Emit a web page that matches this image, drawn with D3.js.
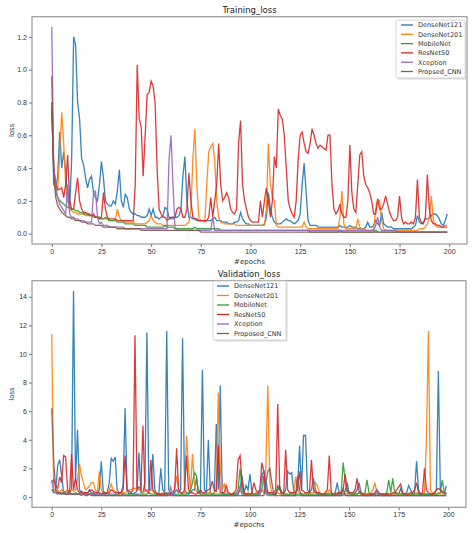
<!DOCTYPE html>
<html lang="en">
<head>
<meta charset="UTF-8">
<title>Training and validation loss</title>
<script src="https://d3js.org/d3.v7.min.js"></script>
<style>
  body { margin: 0; background: #fff; }
  svg { font-family: "DejaVu Sans", sans-serif; }
  .tick text { fill: #333; }
</style>
</head>
<body>
<svg width="474" height="533"></svg>
<script>
// model names (legend labels differ a little between the two panels)
const modelsTrain = ['DenseNet121', 'DenseNet201', 'MobileNet', 'ResNet50', 'Xception', 'Propsed_CNN'];
const modelsVal = ['DenseNet121', 'DenseNet201', 'MobileNet', 'ResNet50', 'Xception', 'Proposed_CNN'];
const colors = ['#1f77b4', '#ff7f0e', '#2ca02c', '#d62728', '#9467bd', '#8c564b'];

const xTicks = [0, 25, 50, 75, 100, 125, 150, 175, 200];
const yTicksTrain = [0, 0.2, 0.4, 0.6, 0.8, 1.0, 1.2];
const yTicksVal = [0, 2, 4, 6, 8, 10, 12, 14];

// training loss, epochs 0..199
const dn121Train = [
  .80,.30,.28,.35,.62,.40,.50,.38,.22,.16,.45,1.20,1.15,.80,.70,.46,.42,.34,.28,.33,
  .35,.25,.22,.20,.30,.44,.34,.20,.18,.17,.17,.20,.18,.26,.39,.20,.16,.24,.22,.15,
  .13,.12,.12,.11,.11,.10,.10,.10,.11,.15,.11,.15,.10,.10,.09,.10,.11,.16,.15,.10,
  .09,.09,.10,.10,.11,.15,.35,.47,.20,.10,.10,.09,.09,.08,.08,.08,.08,.08,.08,.08,
  .08,.09,.10,.08,.08,.08,.07,.07,.07,.06,.06,.06,.07,.07,.08,.13,.09,.07,.06,.06,
  .05,.05,.05,.05,.05,.05,.05,.06,.10,.25,.15,.10,.07,.06,.06,.06,.07,.08,.09,.08,
  .08,.07,.06,.07,.08,.12,.30,.43,.25,.08,.05,.05,.05,.05,.04,.04,.04,.04,.04,.04,
  .04,.04,.04,.04,.04,.05,.04,.04,.04,.04,.05,.04,.04,.04,.03,.03,.03,.03,.04,.07,
  .04,.04,.05,.08,.06,.05,.13,.06,.05,.04,.04,.04,.03,.03,.03,.03,.03,.03,.03,.03,
  .03,.03,.04,.05,.11,.07,.06,.07,.09,.09,.10,.11,.12,.12,.11,.09,.06,.05,.08,.12
];
const dn201Train = [
  .80,.40,.30,.26,.50,.74,.55,.30,.20,.15,.14,.13,.13,.12,.12,.12,.12,.11,.11,.11,
  .11,.10,.10,.10,.10,.09,.09,.09,.09,.08,.08,.08,.09,.15,.10,.08,.08,.07,.07,.07,
  .07,.07,.06,.06,.06,.06,.06,.06,.07,.08,.11,.08,.07,.06,.06,.06,.05,.05,.05,.05,
  .05,.05,.05,.05,.05,.05,.05,.05,.06,.07,.15,.45,.64,.30,.10,.08,.08,.07,.30,.50,
  .53,.55,.45,.20,.10,.07,.07,.06,.06,.06,.06,.06,.06,.05,.05,.05,.05,.05,.05,.05,
  .05,.05,.05,.05,.05,.05,.05,.05,.15,.55,.30,.22,.20,.05,.04,.04,.04,.04,.04,.04,
  .04,.04,.04,.04,.04,.04,.04,.07,.04,.03,.03,.03,.03,.03,.03,.03,.03,.03,.03,.03,
  .03,.03,.03,.03,.03,.10,.26,.06,.03,.03,.03,.03,.03,.03,.09,.04,.03,.03,.02,.02,
  .02,.02,.03,.15,.21,.20,.08,.03,.02,.02,.02,.02,.02,.02,.02,.02,.02,.02,.02,.02,
  .02,.02,.02,.02,.02,.03,.03,.03,.04,.06,.10,.23,.08,.05,.04,.04,.04,.04,.05,.05
];
const mobTrain = [
  .80,.35,.26,.22,.20,.19,.18,.17,.16,.16,.15,.15,.14,.14,.13,.13,.12,.12,.12,.11,
  .11,.11,.10,.10,.10,.09,.09,.10,.09,.08,.08,.08,.08,.07,.07,.07,.07,.06,.06,.06,
  .06,.06,.05,.05,.05,.05,.05,.05,.04,.04,.04,.04,.04,.04,.04,.04,.04,.05,.04,.04,
  .04,.04,.03,.03,.03,.03,.03,.03,.03,.03,.03,.03,.04,.03,.03,.03,.03,.03,.03,.03,
  .03,.03,.03,.03,.03,.02,.02,.02,.02,.02,.02,.02,.02,.02,.02,.02,.02,.02,.02,.02,
  .02,.02,.02,.02,.02,.02,.02,.02,.02,.02,.02,.02,.02,.02,.02,.02,.02,.02,.02,.02,
  .02,.02,.02,.02,.02,.02,.02,.02,.02,.02,.01,.01,.01,.01,.01,.01,.01,.01,.01,.01,
  .01,.01,.01,.01,.01,.02,.01,.01,.01,.01,.01,.01,.01,.01,.01,.01,.01,.01,.01,.01,
  .01,.01,.01,.02,.01,.01,.01,.01,.01,.01,.01,.01,.01,.01,.01,.01,.01,.01,.01,.01,
  .01,.01,.01,.01,.01,.01,.01,.01,.01,.01,.01,.01,.01,.01,.01,.01,.01,.01,.01,.01
];
const resTrain = [
  .75,.40,.30,.27,.27,.28,.22,.30,.48,.20,.15,.15,.25,.34,.20,.15,.13,.13,.12,.12,
  .11,.12,.10,.10,.09,.10,.25,.15,.10,.09,.09,.09,.09,.08,.08,.08,.08,.08,.08,.08,
  .08,.08,.30,1.03,.70,.65,.35,.60,.85,.86,.93,.90,.80,.40,.15,.12,.10,.10,.08,.09,
  .10,.10,.10,.15,.16,.15,.10,.10,.15,.37,.20,.10,.09,.09,.08,.08,.08,.08,.08,.10,
  .22,.10,.20,.30,.55,.30,.20,.22,.25,.22,.15,.13,.12,.15,.55,.69,.30,.20,.15,.10,
  .08,.07,.07,.07,.07,.20,.10,.20,.28,.20,.10,.20,.47,.40,.76,.72,.70,.60,.40,.20,
  .15,.12,.10,.20,.45,.60,.62,.55,.50,.49,.55,.64,.60,.55,.52,.54,.53,.52,.51,.60,
  .60,.30,.15,.12,.14,.18,.12,.10,.10,.20,.54,.25,.15,.13,.30,.48,.50,.35,.30,.28,
  .25,.20,.12,.12,.21,.15,.15,.18,.23,.18,.13,.10,.08,.08,.10,.23,.10,.06,.07,.06,
  .06,.07,.06,.10,.33,.10,.07,.06,.10,.36,.15,.08,.06,.06,.05,.05,.04,.04,.04,.04
];
const xcpTrain = [
  1.26,.40,.28,.22,.18,.16,.14,.12,.30,.12,.10,.10,.09,.09,.08,.08,.08,.07,.07,.07,
  .07,.25,.26,.10,.06,.07,.05,.05,.05,.04,.04,.04,.04,.04,.04,.04,.04,.03,.03,.03,
  .03,.03,.03,.03,.03,.03,.03,.03,.03,.03,.03,.03,.03,.03,.03,.03,.03,.03,.03,.45,
  .60,.30,.04,.03,.02,.02,.02,.02,.02,.02,.02,.02,.02,.02,.02,.02,.02,.02,.02,.02,
  .02,.10,.02,.02,.02,.02,.02,.02,.02,.02,.02,.02,.02,.02,.02,.02,.02,.02,.02,.02,
  .02,.02,.02,.02,.02,.02,.02,.02,.02,.02,.02,.02,.02,.02,.02,.02,.02,.02,.02,.02,
  .02,.02,.02,.02,.02,.02,.02,.02,.02,.02,.02,.02,.02,.02,.02,.02,.02,.02,.02,.02,
  .02,.02,.02,.02,.02,.02,.02,.02,.02,.02,.02,.02,.02,.02,.02,.02,.02,.02,.02,.02,
  .02,.02,.02,.05,.10,.04,.02,.02,.02,.02,.02,.02,.02,.02,.01,.01,.01,.01,.01,.01,
  .01,.01,.01,.01,.01,.01,.01,.01,.01,.01,.01,.01,.01,.01,.01,.01,.01,.01,.01,.01
];
const cnnTrain = [
  .96,.35,.22,.17,.15,.13,.12,.11,.10,.10,.09,.09,.08,.08,.08,.07,.07,.07,.06,.06,
  .06,.06,.05,.05,.05,.05,.04,.04,.04,.04,.04,.04,.04,.03,.03,.03,.03,.03,.03,.03,
  .03,.03,.03,.03,.03,.02,.02,.02,.02,.02,.02,.02,.02,.02,.02,.02,.02,.02,.02,.02,
  .02,.02,.02,.02,.02,.02,.02,.02,.02,.02,.02,.02,.02,.02,.02,.01,.01,.01,.01,.01,
  .01,.01,.01,.01,.01,.01,.01,.01,.01,.01,.01,.01,.01,.01,.01,.01,.01,.01,.01,.01,
  .01,.01,.01,.01,.01,.01,.01,.01,.01,.01,.01,.01,.01,.01,.01,.01,.01,.01,.01,.01,
  .01,.01,.01,.01,.01,.01,.01,.01,.01,.01,.01,.01,.01,.01,.01,.01,.01,.01,.01,.01,
  .01,.01,.01,.01,.01,.01,.01,.01,.01,.01,.01,.01,.01,.01,.01,.01,.01,.01,.01,.01,
  .01,.01,.01,.01,.01,.01,.01,.01,.01,.01,.01,.01,.01,.01,.01,.01,.01,.01,.01,.01,
  .01,.01,.01,.01,.01,.01,.01,.01,.01,.01,.01,.01,.01,.01,.01,.01,.01,.01,.01,.01
];

// validation loss, epochs 0..199
const dn121Val = [
  .5,.4,.5,2.2,2.6,1.5,.3,.4,.3,.3,.5,14.4,1.0,4.7,.5,.3,.2,.3,.2,.5,
  .3,.2,.1,.2,.5,2.5,.4,.3,.3,1.0,2.7,2.5,2.8,.5,.3,.3,.8,6.2,.5,.2,
  .3,.2,.3,.4,3.1,.3,.3,1.0,11.5,.5,.5,3.0,.5,.2,.2,2.0,.5,.3,11.6,.5,
  .3,.2,.3,.5,.3,.5,11.1,.5,.3,.2,.3,.5,.5,1.3,.3,.3,8.9,.5,.3,4.0,
  .3,.2,.3,5.1,.5,7.8,.2,.2,.2,.1,.2,.2,.2,.1,.2,.5,1.5,.3,.8,.5,
  1.6,.3,.2,.2,.2,.5,1.5,1.8,1.2,.3,.2,.2,.2,.3,.5,.7,.3,.2,.5,1.8,
  1.6,1.7,.5,.3,.6,3.6,.5,4.3,4.3,.5,.3,.5,1.3,.5,.2,.2,.2,.1,.2,.2,
  .2,.2,.2,.3,1.0,.2,.2,.2,.4,1.0,.3,.2,.2,.3,.5,1.0,.3,.2,.1,.1,
  .1,.2,.2,.1,.1,.2,.2,.1,.1,.2,.1,.1,.2,.2,.3,.2,.6,.2,.2,.3,
  .8,.5,.2,.3,2.5,.5,.2,.1,.2,.2,.1,.2,.2,.2,.5,8.8,.5,.3,.2,.8
];
const dn201Val = [
  11.4,.5,.4,.5,.3,.5,.4,.3,.5,.3,.5,.4,.5,1.2,2.3,1.5,1.0,.5,.6,.8,
  1.0,1.0,.5,.3,1.8,.5,.3,.2,.3,.5,.9,.5,.4,.3,.2,.2,.3,.3,.4,.5,
  .5,.6,.6,.6,.5,.4,.3,.4,.5,.5,.5,.4,.3,.3,.2,.2,.3,.2,.2,.3,
  .2,.3,.5,1.5,.5,.3,.2,.3,4.3,2.0,.5,3.0,.8,.4,.3,.2,.3,.2,.2,.3,
  .3,.2,.3,.5,7.3,2.0,.5,.9,.4,.3,.2,.2,.3,.2,.3,.4,.3,.2,.2,.3,
  .2,.2,.2,.3,.2,.3,.5,.3,2.0,7.8,1.0,.3,.2,.2,.3,.2,.2,.3,.2,.2,
  .2,.3,.2,1.4,.5,.3,.2,.2,.3,.2,.2,.3,.3,1.0,.8,.3,.2,.2,.3,.2,
  .5,.3,.2,.2,.3,.4,.3,.2,.2,.2,.3,.2,.2,.2,.2,.3,.2,.2,.2,.2,
  .2,.3,.5,1.0,.3,.2,.2,.2,.2,.3,.2,.2,.2,.2,.2,.3,.2,.2,.2,.2,
  .2,.2,.2,.2,.3,.2,.2,.2,.3,4.0,11.6,.5,.3,.2,.2,.3,.2,.2,.3,.3
];
const mobVal = [
  .5,.3,.3,.2,.3,.2,.3,.2,.2,.3,.2,.2,.3,.2,.2,.3,.2,.2,.2,.2,
  .2,.3,.2,.2,.2,.2,.2,.3,.2,.2,.2,.2,.2,.2,.2,.3,.2,.2,.2,.2,
  .2,.2,.2,.2,.2,.2,.2,.2,.2,.3,.2,.2,.2,.2,.2,.2,.2,.2,.2,.2,
  .2,.2,.2,.2,.2,.2,.2,.2,.2,.3,.5,1.0,1.7,1.5,.3,.2,.2,.2,.2,.2,
  .2,.2,.2,.2,.2,.2,.2,.2,.2,.2,.2,.2,.2,.2,.5,2.0,.5,.2,.2,.2,
  .2,.2,.2,.2,.2,.2,.5,1.5,.3,.2,.2,.2,.2,.2,.5,.7,.3,.2,.2,.2,
  .2,.2,.2,.2,.2,.2,.2,.2,.2,.2,.2,.2,.2,.2,.2,.2,.2,.2,.2,.2,
  .2,.2,.2,.2,.2,.2,.3,2.4,1.2,.3,.2,.2,.2,.2,.2,.3,.2,.2,.3,1.2,
  .3,.2,.2,.2,.2,.2,.2,.2,.2,.3,1.2,.3,1.3,.3,.2,.2,.2,.2,.2,.2,
  .2,.2,.2,.2,.2,.2,.2,.2,.2,.2,.2,.2,.2,.2,.2,.2,.3,1.2,.3,.2
];
const resVal = [
  1.0,1.2,.8,.6,1.4,1.0,2.9,2.8,.5,.3,3.0,.5,1.3,.5,.3,.4,.3,.3,.3,.4,
  .5,.4,.3,.3,.3,.2,.3,.2,.3,.3,.5,.4,.3,.3,.3,.3,.5,2.9,.5,.4,
  .3,.5,11.3,.5,.7,.5,5.0,.5,.4,.3,2.6,.5,.3,.2,.2,.2,.2,.2,.3,.2,
  .2,.3,.5,3.4,.5,.3,.3,.5,2.9,.5,.3,.3,.2,.2,.3,.5,.3,.3,.4,.5,
  .6,1.1,.5,.4,3.6,.3,.3,.3,.8,.3,.2,.2,.3,.5,2.6,2.9,1.0,.3,.2,.2,
  .2,.3,1.0,.5,.3,.5,2.4,1.8,.5,.3,.3,.3,.3,.5,6.5,.5,.3,.3,3.3,.5,
  .3,.3,.3,.3,.5,1.8,.5,.4,.3,.3,.3,2.6,.5,.3,.3,.3,.2,.2,.3,.5,
  2.9,.3,.2,.2,.2,.3,.3,.5,1.6,.5,.3,.3,.3,.5,1.3,.4,.3,.2,.2,.2,
  .2,.2,.2,.3,.5,.3,.2,.2,.2,.2,.2,.2,.3,.3,.5,.7,.9,.3,.2,.2,
  .2,.3,.3,.5,1.0,.3,.2,.3,2.0,.5,.3,.2,.2,.3,.5,.6,.5,.4,.3,.2
];
const xcpVal = [
  1.2,.3,.3,.3,.2,.3,.2,.2,.2,.3,.2,.2,.2,.2,.2,.2,.2,.2,.2,.2,
  .2,.1,.2,.2,.1,.2,.2,.1,.1,.2,.1,.1,.2,.1,.1,.1,.2,.1,.1,.1,
  .1,.1,.1,.2,.1,.1,.1,.1,.1,.1,.1,.1,.1,.1,.1,.1,.1,.1,.1,.2,
  .7,.2,.1,.1,.1,.1,.1,.1,.1,.1,.1,.1,.1,.1,.1,.1,.1,.1,.1,.1,
  .1,.1,.1,.1,.1,.1,.1,.1,.1,.1,.1,.1,.1,.1,.2,.8,.2,.1,.1,.1,
  .1,.1,.1,.1,.1,.2,1.5,1.0,.2,.1,.1,.1,.1,.1,.1,.1,.1,.1,.1,.1,
  .1,.1,.1,.1,.1,.1,.1,.1,.1,.1,.1,.1,.1,.1,.1,.1,.1,.1,.1,.1,
  .1,.1,.1,.1,.1,.1,.1,.1,.2,.1,.1,.1,.1,.1,.1,.1,.1,.1,.1,.1,
  .1,.1,.1,.1,.5,.1,.1,.1,.1,.1,.1,.1,.1,.1,.1,.1,.1,.1,.1,.1,
  .1,.1,.1,.1,.1,.1,.1,.1,.1,.1,.1,.1,.1,.1,.1,.1,.1,.1,.1,.1
];
const cnnVal = [
  6.2,2.5,.5,.3,.3,.2,.3,.2,.2,.2,.2,.2,.2,.2,.2,.1,.2,.1,.1,.2,
  .1,.1,.1,.1,.1,.1,.1,.1,.1,.1,.1,.1,.1,.1,.1,.1,.1,.1,.1,.1,
  .1,.1,.1,.1,.1,.1,.1,.1,.1,.1,.1,.1,.1,.1,.1,.1,.1,.1,.1,.1,
  .1,.1,.1,.1,.1,.1,.1,.1,.1,.1,.1,.1,.1,.1,.1,.1,.1,.1,.1,.1,
  .1,.1,.1,.1,.1,.1,.1,.1,.1,.1,.1,.1,.1,.1,.1,.1,.1,.1,.1,.1,
  .1,.1,.1,.1,.1,.1,.1,.1,1.0,1.8,2.0,1.0,.2,.1,.8,.6,.1,.1,.1,.1,
  .1,.1,.1,.1,1.5,.5,.1,.1,.1,.1,.1,.1,.1,.1,.1,.1,.1,.1,.1,.1,
  .1,.1,.1,.1,.1,.1,.1,.6,.1,.1,.1,.1,.1,.1,.1,.1,.1,.1,.1,.1,
  .1,.1,.1,.1,.1,.1,.1,.1,.1,.1,.1,.1,.1,.1,.1,.1,.1,.1,.1,.1,
  .1,.1,.1,.1,.1,.1,.1,.1,.1,.1,.1,.1,.1,.1,.1,.1,.1,.1,.1,.1
];

const svg = d3.select('svg');

function drawPanel(opts) {
  const { top, bottom, left, right, series, labels, yDomain, yTicks, yFmt, title, legend } = opts;
  const x = d3.scaleLinear().domain([-9.95, 208.95]).range([left, right]);
  const y = d3.scaleLinear().domain(yDomain).range([bottom, top]);
  const g = svg.append('g');

  // lines first, frame on top
  const line = d3.line().x((d, i) => x(i)).y(d => y(d));
  series.forEach((s, k) => {
    g.append('path')
      .attr('d', line(s))
      .attr('fill', 'none')
      .attr('stroke', colors[k])
      .attr('stroke-width', 1.3)
      .attr('stroke-opacity', 0.9);
  });

  g.append('rect')
    .attr('x', left).attr('y', top)
    .attr('width', right - left).attr('height', bottom - top)
    .attr('fill', 'none').attr('stroke', '#999').attr('stroke-width', 1.2);

  const xAxis = d3.axisBottom(x).tickValues(xTicks).tickSize(3).tickPadding(2).tickFormat(d3.format('d'));
  const yAxis = d3.axisLeft(y).tickValues(yTicks).tickSize(3).tickPadding(2).tickFormat(yFmt);
  const gx = g.append('g').attr('transform', `translate(0,${bottom})`).call(xAxis);
  const gy = g.append('g').attr('transform', `translate(${left},0)`).call(yAxis);
  [gx, gy].forEach(a => {
    a.select('.domain').remove();
    a.selectAll('line').attr('stroke', '#777');
    a.selectAll('text').attr('font-size', 7).attr('fill', '#333');
  });

  g.append('text')
    .attr('x', (left + right) / 2).attr('y', top - 4)
    .attr('text-anchor', 'middle').attr('font-size', 8.5).attr('fill', '#222')
    .text(title);
  g.append('text')
    .attr('x', (left + right) / 2).attr('y', bottom + 20)
    .attr('text-anchor', 'middle').attr('font-size', 7).attr('fill', '#333')
    .text('#epochs');
  g.append('text')
    .attr('transform', `translate(14,${(top + bottom) / 2}) rotate(-90)`)
    .attr('text-anchor', 'middle').attr('font-size', 7).attr('fill', '#333')
    .text('loss');

  // legend
  const lg = g.append('g').attr('transform', `translate(${legend.x},${legend.y})`);
  lg.append('rect')
    .attr('x', 1.5).attr('y', 1.5).attr('width', legend.w).attr('height', legend.h)
    .attr('fill', '#bbb').attr('opacity', 0.5);
  lg.append('rect')
    .attr('width', legend.w).attr('height', legend.h).attr('rx', 1.5)
    .attr('fill', '#fff').attr('stroke', '#ccc').attr('stroke-width', 0.8);
  labels.forEach((name, k) => {
    const yy = 5 + k * legend.step;
    lg.append('line')
      .attr('x1', legend.lx).attr('x2', legend.lx + 12)
      .attr('y1', yy).attr('y2', yy)
      .attr('stroke', colors[k]).attr('stroke-width', 1.3);
    lg.append('text')
      .attr('x', legend.lx + 17).attr('y', yy + 2.3)
      .attr('font-size', 6.5).attr('fill', '#333')
      .text(name);
  });
}

drawPanel({
  top: 16.7, bottom: 244, left: 32, right: 467,
  series: [dn121Train, dn201Train, mobTrain, resTrain, xcpTrain, cnnTrain],
  labels: modelsTrain,
  yDomain: [-0.063, 1.323], yTicks: yTicksTrain, yFmt: d3.format('.1f'),
  title: 'Training_loss',
  legend: { x: 396, y: 20, w: 69, h: 58, step: 9.3, lx: 5 }
});

drawPanel({
  top: 280.7, bottom: 507.3, left: 32, right: 466,
  series: [dn121Val, dn201Val, mobVal, resVal, xcpVal, cnnVal],
  labels: modelsVal,
  yDomain: [-0.72, 15.12], yTicks: yTicksVal, yFmt: d3.format('d'),
  title: 'Validation_loss',
  legend: { x: 213, y: 281, w: 73, h: 59, step: 9.5, lx: 4 }
});
</script>
</body>
</html>
